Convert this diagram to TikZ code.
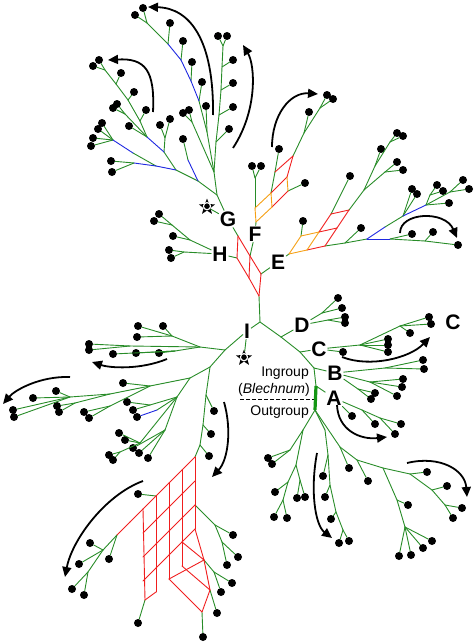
\documentclass[tikz,border=0pt]{standalone}
\usepackage{fontspec}
\setmainfont{Liberation Sans}
\usetikzlibrary{shapes.geometric,arrows.meta}
\definecolor{treeGreen}{RGB}{40,140,40}
\definecolor{stemGreen}{RGB}{20,150,20}
\definecolor{treeBlue}{RGB}{30,40,225}
\definecolor{treeRed}{RGB}{240,30,30}
\definecolor{treeOrange}{RGB}{245,160,20}

\begin{document}
\begin{tikzpicture}
[x=1pt,y=-1pt,
  greenLine/.style={-,draw=treeGreen,line width=0.9pt,line cap=round},
  blueLine/.style={-,draw=treeBlue,line width=0.9pt,line cap=round},
  redLine/.style={-,draw=treeRed,line width=0.9pt,line cap=round},
  orangeLine/.style={-,draw=treeOrange,line width=0.9pt,line cap=round},
  stemLine/.style={-,draw=stemGreen,line width=3.2pt},
  leafDecorate/.style={shape=circle,inner sep=0pt,minimum size=8pt,fill=black},
  labelDecorate/.style={font=\fontsize{21}{21}\selectfont\bfseries,inner sep=1pt},
  groupDecorate/.style={font=\fontsize{14}{14}\selectfont,anchor=east,inner sep=0pt},
  arrowDecorate/.style={-{Triangle[length=10pt,width=9pt]},line width=1.8pt},
  starDecorate/.style={star,star points=5,star point ratio=2.4,minimum size=17pt,
    inner sep=0pt,fill=black,path picture={
      \fill[white] (path picture bounding box.center) circle (4.2pt);
      \fill[black] (path picture bounding box.center) circle (2.8pt);}}]
\useasboundingbox (0,0) rectangle (474,642);
%% internal vertices
\foreach \nodename/\x/\y in {
  nT/238/236, nL/237/258, nM/250/256, nMb/249/278, nR/261/274, nB/259/296,
  root/260/322, T1/281/337, T2/300/352, T3/314/368, T4/316/386, T5/315/410,
  gRoot/217/195, gS/214/172, gR1/216/142, gR2/219/115, gR3/221/90, gR4/222/67,
  gR5/223/46, gM0/207/132, gM1/199/101, gM2/191/81, gM3/181/60, gM4/168/44,
  gM5/147/23, gK/192/122, gL0/198/181, gLb/188/160, gL1/176/170, gX/156/166,
  gL2/134/163, gA/164/152, gA2/165/138, gB/147/137, gC/125/114, gT1/140/121,
  gT2/128/100, gT3/116/84, gT4/105/70, gF0/133/153, gF1/113/140,
  hA/190/240, hB/172/225, hC/184/252,
  fL0/256/222, fU0/255/208, fU1/271/193, fU2/287/177, fL1/272/207, fL2/288/191,
  fS/275/172, fT/293/156, fP/255/178, fT1/304/133, fT2/320/108,
  k00/289/254, k10/307/250, k20/325/246, k01/301/236, k11/319/232, k21/337/228,
  k12/331/214, k22/349/210, eM1/345/243, eM2/367/239, eM3/390/239, eM4/425/241,
  eR0/385/227, eR1/403/216, eR2/426/205, eR3/430/195, eR4/450/192,
  eU1/364/190, eU1b/385/172, eU2/375/166, eU3/390/142,
  dA/322/313, dB/328/320, cC/360/345, cB/400/326, bA/385/368, bB/370/382,
  bC/358/389, aA/362/410, aB/380/418,
  iJ/225/350, iA/200/347, iA1/172/336, iA2/130/346, iA3/175/351, iK/210/367,
  iL/190/378, iL1/150/386, iL2/110/394, iL3/70/397, iL4/75/403, iL5/110/406,
  iN1/177/397, iN2/150/405, iN3/157/410, iN5/140/443, iN6/165/430, iN7/120/452,
  iP1/206/395, iP2/203/425, iP3/200/445,
  Q00/195/457, Q10/182/470, Q20/169/483, Q30/156/496, Q40/143/509, Q50/130/522,
  Q60/117/535, Q01/195/481, Q11/182/494, Q21/169/507, Q31/156/520, Q41/143/533,
  Q02/195/505, Q12/182/518, Q22/169/531, Q32/156/544, Q42/143/557,
  Q03/195/529, Q13/182/542, Q23/169/555, Q33/156/568, Q43/143/581,
  Q14/182/566, Q24/169/579, Q34/156/592,
  Rr1/204/560, Rr2/210/590, Bot/202/612, BL/145/600, rG1/215/525, rG2/222/542,
  rG3/214/572, rL1/103/550, rL2/88/572,
  oA/303/430, oB/290/450, oC/296/465, oD/288/482, oE/283/500, oF/300/480,
  oG/325/430, oH/328/455, oI/330/485, oJ/336/512, oK/343/530, oL/340/447,
  oM/357/460, oN/383/468, oO/410/474, oP/432/490, oQ/445/505, oR/397/500,
  oS/405/527}
{
  \coordinate (\nodename) at (\x,\y);
}
%% taxa
\foreach \nodename/\x/\y in {
  g1/218/36, g2/227/36, g3/233/60, g4/233/83, g5/233/107, g6/229/129,
  g7/206/106, g8/202/82, g9/192/62, g10/183/41, g11/170/23, g12/135/15,
  g13/143/8, g14/183/113, g15/189/110, g16/183/139, g17/111/161, g18/112/172,
  g19/160/125, g20/170/119, g21/129/126, g22/113/108, g23/117/104, g24/146/110,
  g25/134/92, g26/121/73, g27/93/66, g28/99/60, g29/102/123, g30/98/129,
  g31/93/138, g32/91/146,
  h1/159/214, h2/154/221, h3/173/236, h4/169/250, h5/171/258,
  f1/252/166, f2/261/166, f3/279/149, f4/305/183, f5/327/95, f6/333/99, f7/309/112,
  e1/303/221, e2/350/176, e3/361/228, e4/458/245, e5/412/234, e6/433/232,
  e8/463/180, e9/469/189, e10/412/189, e11/417/194, e12/437/185, e13/443/191,
  e14/449/203, e15/397/162, e16/403/170, e17/381/149, e18/397/133, e19/403/136,
  d1/338/298, d2/342/308, d3/345/317, d4/345/323,
  c1/429/317, c2/431/324, c3/410/333, c4/388/339, c5/388/345, c6/388/352, c7/343/352,
  b1/423/360, b2/424/369, b3/403/379, b4/402/387, b5/397/396, b6/375/393, b7/371/399,
  a1/352/416, a2/375/424, a3/401/424, a4/395/434,
  i1/138/326, i2/163/326, i3/137/337, i4/89/344, i5/89/350, i6/113/354,
  i7/136/353, i8/159/353, i9/123/383, i10/56/391, i11/33/398, i12/13/410,
  i13/14/417, i14/57/406, i15/59/412, i16/84/412, i17/89/418, i18/127/402,
  i19/133/410, i20/137/417, i21/119/433, i22/125/440, i23/109/455, i24/113/460,
  i25/133/448, i26/139/453, i27/148/458, i28/214/411, i29/211/434, i30/209/456,
  r1/138/494, r2/233/535, r3/238/557, r4/227/565, r5/232/583, r6/221/592,
  r7/217/613, r8/203/637, r9/90/543, r10/79/564, r11/109/559, r12/72/589,
  r13/84/595, r14/138/623,
  o1/268/458, o2/272/464, o3/274/517, o4/287/518, o5/275/492, o6/297/498,
  o7/305/497, o8/323/476, o9/325/497, o10/331/519, o11/339/543, o12/349/541,
  o13/349/468, o14/368/481, o15/427/472, o16/447/486, o17/462/508, o18/453/518,
  o19/408/505, o20/432/541, o21/423/548, o22/411/555, o23/399/556}
{
  \node (\nodename) at (\x,\y) [leafDecorate] {};
}
%% clade labels and fossils
\foreach \nodename/\x/\y/\txt in {
  G/228/219/G, H/220/254/H, F/255/234/F, E/278/262/E, I/247/331/I,
  D/302/325/D, C/319/349/C, Cr/453/322/C, B/335/373/B, A/334/398/A}
{
  \node (\nodename) at (\x,\y) [labelDecorate] {\txt};
}
\node (starG) at (207,207) [starDecorate] {};
\node (starI) at (244,358) [starDecorate] {};
\node (txtIn) at (309,373) [groupDecorate] {Ingroup};
\node (txtBl) at (310,390) [groupDecorate] {(\textit{Blechnum})};
\node (txtOut) at (309,412) [groupDecorate] {Outgroup};
\coordinate (dashL) at (240,399);
\coordinate (dashR) at (316,399);
\draw [dash pattern=on 4pt off 2pt,line width=1pt] (dashL) -- (dashR);
%% edges or lines
\path
\foreach \startnode/\endnode in {
  nB/root, nT/G, G/gRoot, starG/G, nL/H, nM/F, F/fL0, nR/E, E/k00,
  root/I, I/iJ, I/starI, root/T1, T1/T2, T2/T3, T3/T4, T1/D, T2/C, T3/B, T4/A,
  gRoot/gS, gS/gR1, gR1/gR2, gR2/gR3, gR3/gR4, gR4/gR5, gR5/g1, gR5/g2,
  gR4/g3, gR3/g4, gR2/g5, gR1/g6, gS/gM0, gM0/g7, gM0/gM1, gM1/g8, gM2/g9,
  gM3/g10, gM4/g11, gM4/gM5, gM5/g12, gM5/g13, gS/gK, gK/g14, gK/g15,
  gRoot/gL0, gLb/g16, gL0/gL1, gX/gF0, gF1/g29, gF1/g30, gF1/g31, gF1/g32,
  gL2/g17, gL2/g18, gL1/gA, gA/gA2, gA2/g19, gA2/g20, gB/g21, gB/gC, gC/g22,
  gC/g23, gB/gT1, gT1/g24, gT1/gT2, gT2/g25, gT2/gT3, gT3/g26, gT3/gT4,
  gT4/g27, gT4/g28,
  H/hA, hA/h3, hA/hB, hB/h1, hB/h2, H/hC, hC/h4, hC/h5,
  fU0/fP, fP/f1, fP/f2, fU1/fS, fS/f3, fL2/f4, fT/fT1, fT1/f7, fT1/fT2,
  fT2/f5, fT2/f6,
  k01/e1, k12/e2, k20/eM1, eM1/e3, eM1/eM2, eM3/eM4, eM4/e4, eM3/e5, eM4/e6,
  k22/eU1, eU1/eU1b, eU1b/e15, eU1b/e16, eU1/eU2, eU2/e17, eU2/eU3, eU3/e18,
  eU3/e19, eR0/eR1, eR1/e10, eR1/e11, eR2/e14, eR2/eR3, eR3/e12, eR3/e13,
  eR2/eR4, eR4/e8, eR4/e9,
  D/dA, dA/d1, dA/d2, D/dB, dB/d3, dB/d4,
  C/cC, cC/cB, cB/c1, cB/c2, cB/c3, cC/c4, cC/c5, cC/c6, C/c7,
  B/bA, bA/b1, bA/b2, B/bB, bB/b3, bB/b4, bB/b5, B/bC, bC/b6, bC/b7,
  A/a1, A/aA, aA/a2, aA/aB, aB/a3, aB/a4,
  iJ/iA, iA/iA1, iA1/i1, iA1/i2, iA1/i3, iA/iA2, iA2/i4, iA2/i5, iA/iA3,
  iA3/i6, iA3/i7, iA3/i8, iJ/iK, iK/iL, iL/iL1, iL1/i9, iL1/iL2, iL2/iL3,
  iL3/i10, iL3/i11, iL3/i12, iL3/i13, iL2/iL4, iL4/i14, iL4/i15, iL1/iL5,
  iL5/i16, iL5/i17, iL/iN1, iN1/iN2, iN2/i18, iN2/i19, iN1/iN3, iN1/iN5,
  iN5/i21, iN5/i22, iN5/iN7, iN7/i23, iN7/i24, iN1/iN6, iN6/i25, iN6/i26,
  iN6/i27, iK/iP1, iP1/i28, iP1/iP2, iP2/i29, iP2/iP3, iP3/i30, iP3/Q00,
  Q30/r1, Q02/rG1, rG1/r2, rG1/rG2, rG2/r3, rG2/r4, Rr1/rG3, rG3/r5, rG3/r6,
  Rr2/r7, Bot/r8, BL/r14, Q60/r11, Q60/rL1, rL1/r9, rL1/r10, rL1/rL2,
  rL2/r12, rL2/r13,
  T5/oA, oA/oB, oB/o1, oB/o2, oA/oC, oC/oD, oD/oE, oE/o3, oE/o4, oD/o5,
  oC/oF, oF/o6, oF/o7, T5/oG, oG/oH, oH/o8, oH/oI, oI/o9, oI/oJ, oJ/o10,
  oJ/oK, oK/o11, oK/o12, T5/oL, oL/o13, oL/oM, oM/o14, oM/oN, oN/oO, oO/o15,
  oO/oP, oP/o16, oP/oQ, oQ/o17, oQ/o18, oN/oR, oR/o19, oR/oS, oS/o20,
  oS/o21, oS/o22, oS/o23}
{
  (\startnode) edge[greenLine] (\endnode)
};
\path
\foreach \startnode/\endnode in {
  gM1/gM2, gM2/gM3, gM3/gM4, gL0/gLb, gL1/gX, gX/gL2, gF0/gF1, gA/gB,
  eM2/eM3, eM2/eR0, eR1/eR2, iN3/i20}
{
  (\startnode) edge[blueLine] (\endnode)
};
\path
\foreach \startnode/\endnode in {
  nT/nM, nM/nR, nL/nMb, nMb/nB, nT/nL, nM/nMb, nR/nB,
  fU1/fU2, fL1/fL2, fU2/fT, fS/fT,
  k10/k20, k11/k21, k20/k21, k11/k12, k21/k22, k12/k22,
  Q00/Q10, Q10/Q20, Q20/Q30, Q30/Q40, Q40/Q50, Q50/Q60,
  Q01/Q11, Q11/Q21, Q21/Q31, Q31/Q41, Q02/Q12, Q12/Q22, Q22/Q32, Q32/Q42,
  Q03/Q13, Q13/Q23, Q23/Q33, Q33/Q43,
  Q00/Q01, Q01/Q02, Q02/Q03, Q10/Q14, Q20/Q24, Q30/Q34, Q40/BL,
  Q34/BL, Q03/Rr1, Rr1/Rr2, Rr2/Bot, Q13/Rr1, Q14/Rr2, Q24/Bot, Rr1/Q24}
{
  (\startnode) edge[redLine] (\endnode)
};
\path
\foreach \startnode/\endnode in {
  fL0/fU0, fU0/fU1, fL0/fL1, fU1/fL1, fU2/fL2,
  k00/k10, k00/k01, k01/k11, k10/k11}
{
  (\startnode) edge[orangeLine] (\endnode)
};
\draw [stemLine] (T4) -- (T5);
%% character shifts
\foreach \nodename/\x/\y in {
  aG1s/213/115, aG1e/148/7, aG2s/153/112, aG2e/108/60, aG3s/233/148,
  aG3e/243/45, aFs/272/147, aFe/318/94, aEs/400/233, aEe/457/238,
  aCs/342/357, aCe/430/337, aAs/337/405, aAe/387/437, aI1s/167/359,
  aI1e/92/362, aI2s/70/377, aI2e/3/404, aI3s/224/402, aI3e/212/477,
  aRs/143/481, aRe/65/577, aO1s/317/453, aO1e/332/538, aO2s/407/463,
  aO2e/467/497}
{
  \coordinate (\nodename) at (\x,\y);
}
\draw [arrowDecorate] (aG1s) .. controls (214,40) and (190,8) .. (aG1e);
\draw [arrowDecorate] (aG2s) .. controls (155,70) and (145,58) .. (aG2e);
\draw [arrowDecorate] (aG3s) .. controls (258,110) and (255,65) .. (aG3e);
\draw [arrowDecorate] (aFs) .. controls (272,115) and (290,92) .. (aFe);
\draw [arrowDecorate] (aEs) .. controls (400,212) and (445,210) .. (aEe);
\draw [arrowDecorate] (aCs) .. controls (370,368) and (410,358) .. (aCe);
\draw [arrowDecorate] (aAs) .. controls (338,430) and (360,440) .. (aAe);
\draw [arrowDecorate] (aI1s) .. controls (140,370) and (110,368) .. (aI1e);
\draw [arrowDecorate] (aI2s) .. controls (40,376) and (15,390) .. (aI2e);
\draw [arrowDecorate] (aI3s) .. controls (232,430) and (228,460) .. (aI3e);
\draw [arrowDecorate] (aRs) .. controls (105,495) and (72,540) .. (aRe);
\draw [arrowDecorate] (aO1s) .. controls (310,490) and (315,525) .. (aO1e);
\draw [arrowDecorate] (aO2s) .. controls (440,455) and (465,470) .. (aO2e);
\end{tikzpicture}
\end{document}
